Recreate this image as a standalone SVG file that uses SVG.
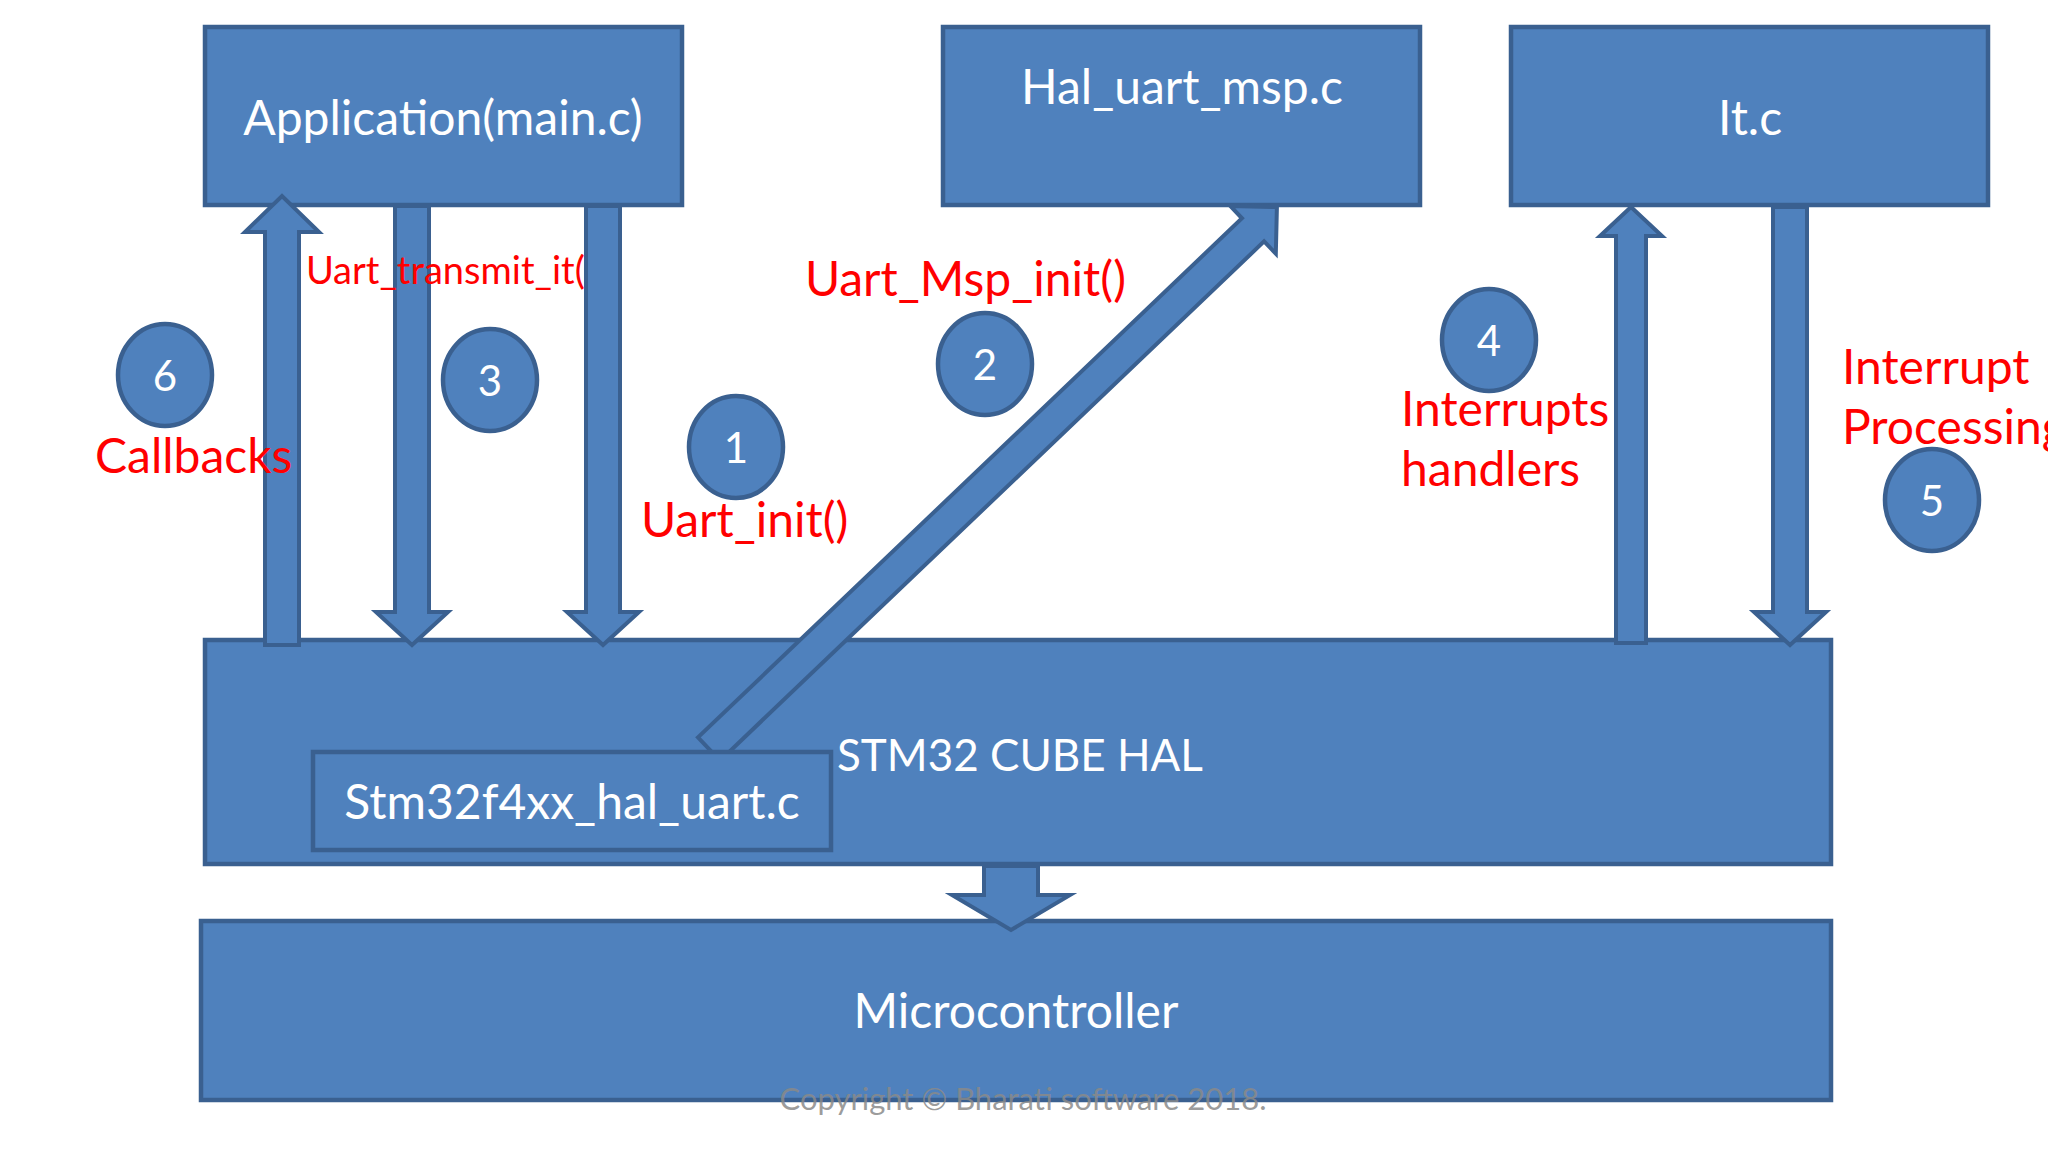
<svg xmlns="http://www.w3.org/2000/svg" width="2048" height="1152" viewBox="0 0 2048 1152">
<style>
.box{fill:#4F81BD;stroke:#3A6090;stroke-width:4.5}
.arrow{fill:#4F81BD;stroke:#3A6090;stroke-width:4;stroke-linejoin:miter}
.badge{fill:#4F81BD;stroke:#3A6090;stroke-width:4.5}
.wt{fill:#FFFFFF;font-family:Lato,"Open Sans",sans-serif;font-size:48px}
.num{fill:#FFFFFF;font-family:Lato,"Open Sans",sans-serif;font-size:42px;text-anchor:middle}
.red{fill:#FF0000;font-family:Lato,"Open Sans",sans-serif;font-size:48px}
.copy{fill:#8A8A8A;fill-opacity:0.85;font-family:Lato,"Open Sans",sans-serif;font-size:31px;text-anchor:middle}
</style>
<rect width="2048" height="1152" fill="#FFFFFF"/>
<g id="application">
<rect class="box" x="205" y="27" width="477" height="178"/>
<text class="wt" x="443" y="135" text-anchor="middle">Application(main.c)</text>
</g>
<g id="hal_uart_msp">
<rect class="box" x="943" y="27" width="477" height="178"/>
<text class="wt" x="1182" y="104" text-anchor="middle">Hal_uart_msp.c</text>
</g>
<g id="it_c">
<rect class="box" x="1511" y="27" width="477" height="178"/>
<text class="wt" x="1750" y="135" text-anchor="middle">It.c</text>
</g>
<g id="stm32_cube_hal">
<rect class="box" x="205" y="640" width="1626" height="224"/>
<text class="wt" x="837" y="771" style="font-size:44px">STM32 CUBE HAL</text>
</g>
<g id="microcontroller">
<rect class="box" x="201" y="921" width="1630" height="179"/>
<text class="wt" x="1016" y="1028" text-anchor="middle">Microcontroller</text>
</g>
<g id="connectors">
<polygon class="arrow" points="265,645 265,232 245,232 282,196 319,232 299,232 299,645"/>
<polygon class="arrow" points="395,206 429,206 429,612 448,612 412,645 376,612 395,612"/>
<polygon class="arrow" points="586,206 620,206 620,612 639,612 603,645 567,612 586,612"/>
<polygon class="arrow" transform="translate(709,749) rotate(-43.66)" points="0,-16 752,-16 752,-33 785,0 752,33 752,16 0,16"/>
<polygon class="arrow" points="1616,643 1616,236 1600,236 1631,207 1662,236 1646,236 1646,643"/>
<polygon class="arrow" points="1773,207 1807,207 1807,612 1826,612 1790,645 1754,612 1773,612"/>
<polygon class="arrow" points="984,866 1038,866 1038,895 1070,895 1011,930 952,895 984,895"/>
</g>
<g id="stm32f4xx_hal_uart">
<rect class="box" x="313" y="752" width="518" height="98"/>
<text class="wt" x="572" y="819" text-anchor="middle">Stm32f4xx_hal_uart.c</text>
</g>
<g id="step1">
<ellipse class="badge" cx="736" cy="447" rx="47" ry="51"/>
<text class="num" x="736" y="463">1</text>
<text class="red" x="641" y="537">Uart_init()</text>
</g>
<g id="step2">
<ellipse class="badge" cx="985" cy="364" rx="47" ry="51"/>
<text class="num" x="985" y="380">2</text>
<text class="red" x="805" y="296">Uart_Msp_init()</text>
</g>
<g id="step3">
<ellipse class="badge" cx="490" cy="380" rx="47" ry="51"/>
<text class="num" x="490" y="396">3</text>
<text class="red" x="306" y="284" style="font-size:38px">Uart_transmit_it(</text>
</g>
<g id="step4">
<ellipse class="badge" cx="1489" cy="340" rx="47" ry="51"/>
<text class="num" x="1489" y="356">4</text>
<text class="red" x="1401" y="426">Interrupts</text>
<text class="red" x="1401" y="486">handlers</text>
</g>
<g id="step5">
<ellipse class="badge" cx="1932" cy="500" rx="47" ry="51"/>
<text class="num" x="1932" y="516">5</text>
<text class="red" x="1842" y="384">Interrupt</text>
<text class="red" x="1842" y="444">Processing</text>
</g>
<g id="step6">
<ellipse class="badge" cx="165" cy="375" rx="47" ry="51"/>
<text class="num" x="165" y="391">6</text>
<text class="red" x="95" y="473">Callbacks</text>
</g>
<text class="copy" x="1023" y="1110">Copyright © Bharati software 2018.</text>
</svg>
